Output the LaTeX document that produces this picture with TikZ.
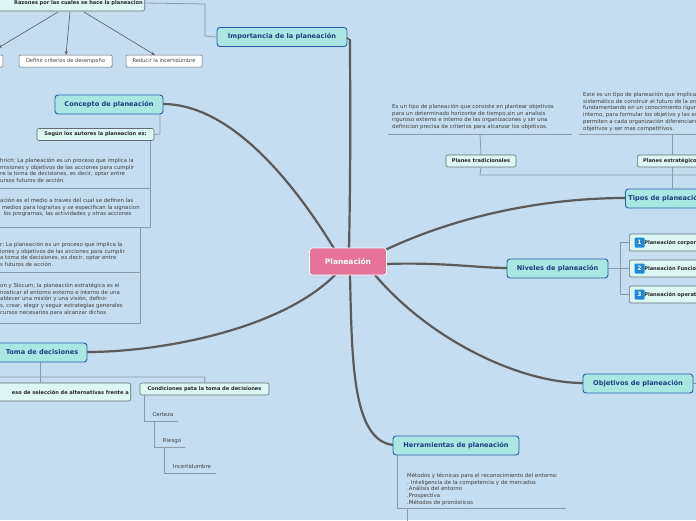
\documentclass[tikz,border=0pt]{standalone}
\usepackage{fontspec}
\setmainfont{DejaVu Sans}
\usetikzlibrary{arrows.meta}
\definecolor{bg}{HTML}{C4DDF0}
\definecolor{mainfill}{HTML}{A9E8E2}
\definecolor{mainline}{HTML}{2A5DA8}
\definecolor{maintext}{HTML}{1D3D80}
\definecolor{subfill}{HTML}{DDF8F4}
\definecolor{thick}{HTML}{5A5A5A}
\definecolor{thin}{HTML}{8A9AA8}
\definecolor{pink}{HTML}{E8739A}
\definecolor{numblue}{HTML}{1E88E0}
\begin{document}
\begin{tikzpicture}[x=1pt,y=-1pt,
 mainbox/.style={draw=mainline,fill=mainfill,rounded corners=3pt,line width=0.9pt,font=\bfseries\fontsize{6.6}{8}\selectfont,text=maintext,minimum height=19pt,inner sep=2pt},
 subbox/.style={draw=thin!70!black,fill=subfill,rounded corners=2pt,line width=0.6pt,font=\bfseries\fontsize{5.1}{6}\selectfont,text=black!85,minimum height=12pt,inner sep=2pt},
 whitebox/.style={draw=thin!70!black,fill=white,rounded corners=1pt,line width=0.5pt,font=\fontsize{5.1}{6}\selectfont,text=black!75,minimum height=12pt,inner sep=2pt},
 txt/.style={font=\fontsize{5.4}{6.7}\selectfont,text=black!75,align=left,inner sep=0pt},
 thickline/.style={draw=thick,line width=2.2pt,line cap=round},
 thinline/.style={draw=thin,line width=0.8pt},
 arr/.style={draw=thick,line width=0.6pt,-{Stealth[length=4pt]}},
 num/.style={fill=numblue,text=white,font=\bfseries\fontsize{6}{6}\selectfont,minimum size=10pt,inner sep=0pt,rounded corners=1pt}]
\useasboundingbox (0,0) rectangle (696,520);
\clip (0,0) rectangle (696,520);
\fill[bg] (0,0) rectangle (696,520);

% connectors (central)
\coordinate (cimp) at (350,40);
\draw[thickline] (349,250) .. controls (351,150) and (350,80) .. (cimp);
\draw[thickline] (335,250) .. controls (280,160) and (220,104) .. (163,104);
\draw[thickline] (335,275) .. controls (280,330) and (160,352) .. (87,352);
\draw[thickline] (350,275) .. controls (352,360) and (352,440) .. (393,445);
\draw[thickline] (385,250) .. controls (470,210) and (560,198) .. (625,198);
\draw[thickline] (387,264) .. controls (440,262) and (480,268) .. (507,268);
\draw[thickline] (375,275) .. controls (430,340) and (520,383) .. (583,383);

% central
\node[draw=white,fill=pink,rounded corners=3pt,line width=0.8pt,font=\bfseries\fontsize{7.5}{9}\selectfont,text=white,minimum width=77pt,minimum height=27pt] (plan) at (348,261.5) {Planeación};

% Importancia
\node[mainbox,minimum width=130pt] (imp) at (282,37) {Importancia de la planeación};
\draw[thickline,line width=1.5pt] (347,38) -- (cimp);
\node[subbox,text width=160pt,align=right,anchor=east,minimum height=16pt] (raz) at (145,3) {Razones por las cuales se hace la planeacion};
\draw[thinline] (raz.east) -- (205,4) -- (205,36) -- (imp.west);
\node[whitebox,minimum width=30pt,anchor=east] (r1) at (3,61) {};
\node[whitebox,minimum width=93pt] (r2) at (65.5,61) {Definir criterios de desempeño};
\node[whitebox,minimum width=76pt] (r3) at (164,61) {Reducir la incertidumbre};
\draw[arr] (58,12) -- (-2,48);
\draw[arr] (70,12) -- (66,55);
\draw[arr] (84,12) -- (155,55);

% Concepto
\node[mainbox,minimum width=108pt] (con) at (109,104.5) {Concepto de planeación};
\node[subbox,minimum width=117pt] (seg) at (95.5,134.5) {Según los autores la planeacion es:};
\draw[thinline] (160,114) -- (160,134) -- (seg.east);
\draw[thinline] (150,141) -- (150,188) -- (-1,188);
\draw[thinline] (150,188) -- (150,227) -- (-1,227);
\draw[thinline] (140,227) -- (140,272) -- (-1,272);
\draw[thinline] (140,272) -- (140,323) -- (-1,323);
\node[txt,anchor=north west] (b1) at (0,158) {hrich; La planeación es un proceso que implica la\\ misiones y objetivos de las acciones para cumplir\\re la toma de decisiones, es decir, optar entre\\ursos futuros de acción.};
\node[txt,anchor=north west] (b2) at (0,198) {ación es el medio a traves del cual se definen las\\ \ medios para lograrlas y se especifican la signacion\\ \ \ los programas, las actividades y otras acciones};
\node[txt,anchor=north west] (b3) at (0,242) {r; La planeación es un proceso que implica la\\iones y objetivos de las acciones para cumplir\\a toma de decisiones, es decir, optar entre\\s futuros de acción.};
\node[txt,anchor=north west] (b4) at (0,283) {on y Slocum; la planeación estratégica es el\\nosticar el entorno externo e interno de una\\ablecer una misión y una visión, definir\\s, crear, elegir y seguir estrategias generales\\cursos necesarios para alcanzar dichos};

% Toma de decisiones
\node[mainbox,minimum width=96pt] (toma) at (39,352.5) {\hspace*{6pt}Toma de decisiones};
\node[subbox,text width=160pt,align=right,anchor=east,minimum height=18pt] (sel) at (131,392) {eso de selección de alternativas frente a};
\node[subbox,minimum width=129pt] (cond) at (204.5,389) {Condiciones pata la toma de decisiones};
\draw[thinline] (40,362) -- (40,377);
\draw[thinline] (-1,377) -- (205,377) -- (cond.north);
\draw[thinline] (40,377) -- (40,383);
\node[txt] (cer) at (163,415) {Certeza};
\node[txt] (rie) at (172,441) {Riesgo};
\node[txt] (inc) at (192,466) {Incertidumbre};
\draw[thinline] (144,395) -- (144,421) -- (178,421);
\draw[thinline] (154,421) -- (154,447) -- (185,447);
\draw[thinline] (164,447) -- (164,473) -- (216,473);

% Herramientas
\node[mainbox,minimum width=126pt] (her) at (456,445.5) {Herramientas de planeación};
\node[txt,anchor=north west] (ht) at (407,473) {Métodos y técnicas para el reconocimiento del entorno:\\. Inteligencia de la competencia y de mercados\\.Análisis del entorno\\.Prospectiva\\.Métodos de pronósticos};
\draw[thinline] (397,455) -- (397,508) -- (566,508);
\draw[thinline] (407,508) -- (407,521);

% Tipos
\node[mainbox,minimum width=80pt,anchor=west] (tip) at (625,198.5) {Tipos de planeación};
\node[subbox,minimum width=70pt] (trad) at (481,161) {Planes tradicionales};
\node[subbox,minimum width=68pt,anchor=west] (est) at (637,161) {Planes estratégicos};
\draw[thinline] (trad.south) -- (480,175) -- (697,175);
\draw[thinline] (672,134) -- (672,155);
\draw[thinline] (672,167) -- (672,189);
\draw[thinline] (480,134) -- (trad.north);
\draw[thinline] (388,134) -- (572,134);
\draw[thinline] (579,134) -- (697,134);
\node[txt,anchor=north west] (tt) at (392,104) {Es un tipo de planeación que consiste en plantear objetivos\\para un determinado horizonte de tiempo,sin un analisis\\riguroso externo e interno de las organizacones y sin una\\definicion precisa de criterios para alcanzar los objetivos.};
\node[txt,anchor=north west] (et) at (583,92) {Este es un tipo de planeación que implica el proceso\\sistemático de construir el futuro de la organización\\fundamentando en un conocimiento riguroso externo e\\interno, para formular los objetivo y las estrategias que\\permiten a cada organización diferenciarse y alcanzar sus\\objetivos y ser mas competitivos.};

% Niveles
\node[mainbox,minimum width=101pt] (niv) at (557.5,268.5) {Niveles de planeación};
\node[subbox,minimum height=17pt,anchor=west,text width=110pt,align=left] (n1) at (629,242.5) {\hspace*{13pt}Planeación corporativa};
\node[subbox,minimum height=17pt,anchor=west,text width=110pt,align=left] (n2) at (629,268.5) {\hspace*{13pt}Planeación Funcional};
\node[subbox,minimum height=17pt,anchor=west,text width=110pt,align=left] (n3) at (629,294.5) {\hspace*{13pt}Planeación operativa};
\node[num] (k1) at (639.5,242.5) {1};
\node[num] (k2) at (639.5,268.5) {2};
\node[num] (k3) at (639.5,294.5) {3};
\draw[thinline] (niv.east) -- (620,268.5);
\draw[thinline] (n1.west) -- (620,242.5) -- (620,294.5) -- (n3.west);
\draw[thinline] (620,268.5) -- (n2.west);

% Objetivos
\node[mainbox,minimum width=110pt] (obj) at (638,383.5) {Objetivos de planeación};
\draw[thinline] (obj.east) -- (697,383.5);
\end{tikzpicture}
\end{document}
